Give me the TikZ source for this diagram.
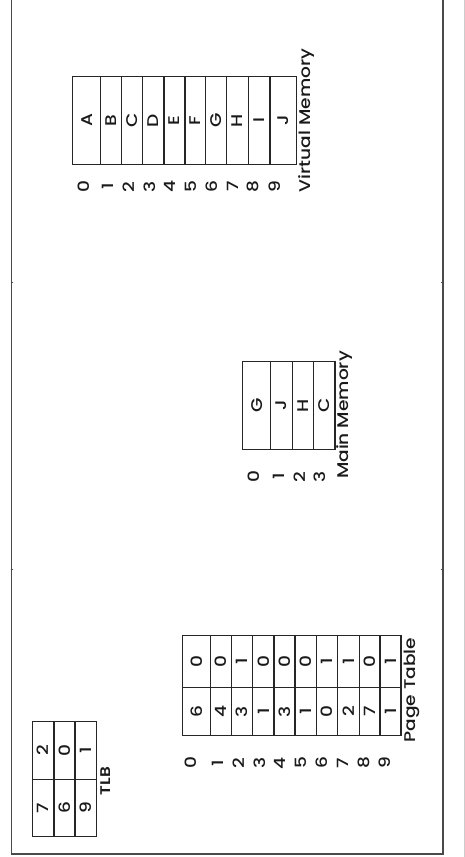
\documentclass[tikz,border=0pt]{standalone}
\usepackage{fontspec}
\IfFontExistsTF{Poppins Medium}{\setmainfont{Poppins Medium}[BoldFont=Poppins SemiBold]}{\setmainfont{Poppins}}
\definecolor{linec}{HTML}{262626}
\definecolor{textc}{HTML}{1A1A1A}
\definecolor{framec}{HTML}{4A4A4A}
\newcommand{\rt}[1]{\rotatebox{90}{\scalebox{1.2}[1]{#1}}}
\newcommand{\mycell}[6]{\node[cell, minimum width={(#3-#2)*1pt}, minimum height={(#5-#4)*1pt}] (#1) at ({(#2+#3)/2},{(#4+#5)/2}) {\rt{#6}};}
\begin{document}
\begin{tikzpicture}[x=1pt,y=-1pt,
  cell/.style={draw=linec, line width=1.4pt, inner sep=0pt, outer sep=0pt, font=\fontsize{15.5}{15.5}\selectfont, text=textc},
  idx/.style={inner sep=0pt, font=\fontsize{15.5}{15.5}\selectfont, text=textc},
  lbl/.style={inner sep=0pt, font=\fontsize{15.5}{15.5}\selectfont, text=textc}]
\useasboundingbox (0,0) rectangle (465,857);
% sheet frame
\draw[framec, line width=1.4pt] (11.7,0) coordinate (fl) -- (11.7,854) coordinate (fbl) -- (442.5,854) coordinate (fbr) -- (442.5,0) coordinate (fr);
\draw[framec, line width=2pt] (442.5,0) -- (442.5,855);
\draw[black!20, line width=0.8pt] (464.5,0) -- (464.5,857);
\foreach \yy in {282.7,569.3}{
  \draw[framec, line width=1pt] (10.5,\yy) -- (13,\yy);
  \draw[framec, line width=1pt] (441,\yy) -- (444,\yy);
}
% Virtual Memory
\mycell{vA}{72.7}{100.7}{76.7}{164.3}{A}
\mycell{vB}{100.7}{121.7}{76.7}{164.3}{B}
\mycell{vC}{121.7}{142.7}{76.7}{164.3}{C}
\mycell{vD}{142.7}{164}{76.7}{164.3}{D}
\mycell{vE}{164}{185}{76.7}{164.3}{E}
\mycell{vF}{185}{205.7}{76.7}{164.3}{F}
\mycell{vG}{205.7}{226.7}{76.7}{164.3}{G}
\mycell{vH}{226.7}{248.3}{76.7}{164.3}{H}
\mycell{vI}{248.3}{270}{76.7}{164.3}{I}
\mycell{vJ}{270}{296.7}{76.7}{164.3}{J}
\foreach \i/\xx in {0/83.3,1/108.3,2/128.3,3/149.3,4/170,5/191,6/211.7,7/233.3,8/253.3,9/275}{
  \node[idx] (vi\i) at (\xx,186.7) {\rt{\i}};
}
\node[lbl] (vlab) at (307,120.5) {\rt{Virtual Memory}};
% Main Memory
\mycell{m0}{242.7}{270.7}{361.7}{449.3}{G}
\mycell{m1}{270.7}{292.3}{361.7}{449.3}{J}
\mycell{m2}{292.3}{313.3}{361.7}{449.3}{H}
\mycell{m3}{313.3}{335}{361.7}{449.3}{C}
\foreach \i/\xx in {0/253.3,1/279.3,2/300,3/319.3}{
  \node[idx] (mi\i) at (\xx,476.7) {\rt{\i}};
}
\node[lbl] (mlab) at (345,415) {\rt{Main Memory}};
% Page Table
\foreach \i/\xa/\xb/\v/\f in {0/182.7/210.7/0/6,1/210.7/231.7/0/4,2/231.7/252.7/1/3,3/252.7/274/0/1,4/274/295/0/3,5/295/316.7/0/1,6/316.7/337.7/1/0,7/337.7/359.3/1/2,8/359.3/380/0/7,9/380/401/1/1}{
  \mycell{pv\i}{\xa}{\xb}{635.7}{687.3}{\v}
  \mycell{pf\i}{\xa}{\xb}{687.3}{735.7}{\f}
}
\foreach \i/\xx in {0/190.7,1/218.3,2/238.3,3/259.3,4/280,5/301,6/321.7,7/343.3,8/364.3,9/385}{
  \node[idx] (pi\i) at (\xx,763) {\rt{\i}};
}
\node[lbl] (plab) at (411.7,690) {\rt{Page Table}};
% TLB
\foreach \i/\xa/\xb/\u/\l in {0/32.3/54/2/7,1/54/75/0/6,2/75/96.7/1/9}{
  \mycell{tu\i}{\xa}{\xb}{721.7}{779.3}{\u}
  \mycell{tl\i}{\xa}{\xb}{779.3}{836.7}{\l}
}
\node[lbl, font=\fontsize{14}{14}\selectfont\bfseries] (tlab) at (106,781) {\rt{TLB}};
\end{tikzpicture}
\end{document}
